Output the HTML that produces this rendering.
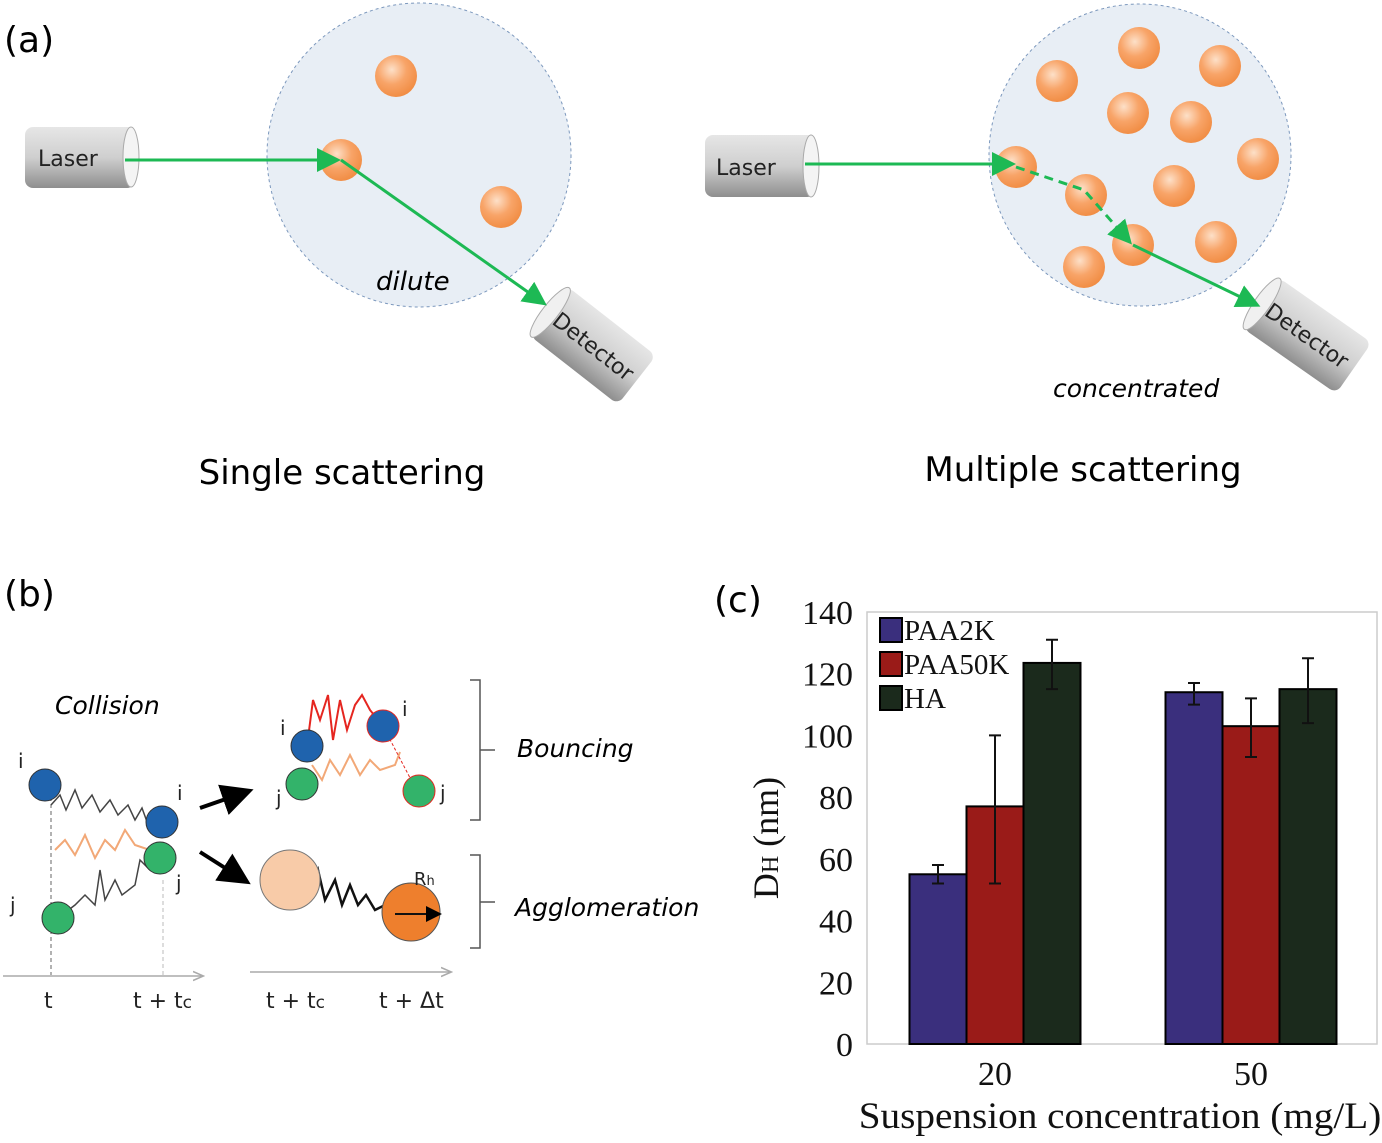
<!DOCTYPE html>
<html><head><meta charset="utf-8"><style>
body{margin:0;background:#fff;width:1382px;height:1143px;overflow:hidden}
svg{position:absolute;left:0;top:0}
.s{font-family:"DejaVu Sans","Liberation Sans",sans-serif}
.r{font-family:"Liberation Serif",serif}
</style></head><body>
<svg width="1382" height="1143" viewBox="0 0 1382 1143">
<defs>
<radialGradient id="og" cx="0.4" cy="0.35" r="0.7"><stop offset="0" stop-color="#fde0c8"/><stop offset="0.5" stop-color="#f8a468"/><stop offset="1" stop-color="#f08a40"/></radialGradient>
<linearGradient id="cyl" x1="0" y1="0" x2="0" y2="1"><stop offset="0" stop-color="#e6e6e6"/><stop offset="0.5" stop-color="#cfcfcf"/><stop offset="1" stop-color="#8e8e8e"/></linearGradient>
<marker id="ga" markerWidth="8" markerHeight="8" refX="6" refY="4" orient="auto"><path d="M0,0 L8,4 L0,8 z" fill="#1db954"/></marker>
<marker id="ka" markerWidth="8" markerHeight="8" refX="6" refY="4" orient="auto"><path d="M0,0 L8,4 L0,8 z" fill="#000"/></marker>
<marker id="ya" markerWidth="8" markerHeight="8" refX="6" refY="4" orient="auto"><path d="M0,1 L7,4 L0,7" fill="none" stroke="#aaa"/></marker>
</defs>
<!-- panel a -->
<text class="s" x="4" y="52" font-size="36">(a)</text>
<circle cx="419" cy="155" r="152" fill="#e8eef5" stroke="#7c98bd" stroke-dasharray="3,3"/>
<circle cx="1140" cy="155" r="151" fill="#e8eef5" stroke="#7c98bd" stroke-dasharray="3,3"/>
<g fill="url(#og)">
<circle cx="396" cy="76" r="21"/><circle cx="341" cy="160" r="21"/><circle cx="501" cy="207" r="21"/>
<circle cx="1139" cy="48" r="21"/><circle cx="1057" cy="81" r="21"/><circle cx="1220" cy="66" r="21"/><circle cx="1128" cy="113" r="21"/><circle cx="1191" cy="122" r="21"/><circle cx="1258" cy="159" r="21"/><circle cx="1016" cy="167" r="21"/><circle cx="1174" cy="186" r="21"/><circle cx="1086" cy="195" r="21"/><circle cx="1133" cy="245" r="21"/><circle cx="1216" cy="242" r="21"/><circle cx="1084" cy="267" r="21"/>
</g>
<g><rect x="25" y="127" width="110" height="61" rx="8" fill="url(#cyl)"/><ellipse cx="131" cy="157" rx="8" ry="30" fill="#f4f4f4" stroke="#aaa"/><text class="s" x="38" y="166" font-size="22" fill="#222">Laser</text></g>
<g><rect x="705" y="135" width="110" height="62" rx="8" fill="url(#cyl)"/><ellipse cx="811" cy="166" rx="8" ry="31" fill="#f4f4f4" stroke="#aaa"/><text class="s" x="716" y="175" font-size="22" fill="#222">Laser</text></g>
<g transform="translate(592,345) rotate(38)"><rect x="-55" y="-31" width="112" height="62" rx="8" fill="url(#cyl)"/><ellipse cx="-53" cy="0" rx="8" ry="31" fill="#f0f0f0" stroke="#aaa"/><text class="s" x="-46" y="8" font-size="22" fill="#222">Detector</text></g>
<g transform="translate(1308,336) rotate(35)"><rect x="-58" y="-31" width="114" height="62" rx="8" fill="url(#cyl)"/><ellipse cx="-56" cy="0" rx="8" ry="31" fill="#f0f0f0" stroke="#aaa"/><text class="s" x="-49" y="8" font-size="22" fill="#222">Detector</text></g>
<g stroke="#1db954" stroke-width="3" fill="none">
<line x1="125" y1="160" x2="335" y2="160" marker-end="url(#ga)"/><line x1="341" y1="160" x2="542" y2="302" marker-end="url(#ga)"/>
<line x1="805" y1="164" x2="1010" y2="164" marker-end="url(#ga)"/>
<polyline points="1016,167 1084,190 1128,240" stroke-dasharray="9,6" marker-end="url(#ga)"/>
<line x1="1133" y1="245" x2="1255" y2="304" marker-end="url(#ga)"/>
</g>
<text class="s" x="376" y="290" font-size="26" font-style="italic">dilute</text>
<text class="s" x="1053" y="397" font-size="25" font-style="italic">concentrated</text>
<text class="s" x="342" y="484" font-size="34" text-anchor="middle">Single scattering</text>
<text class="s" x="1083" y="481" font-size="34" text-anchor="middle">Multiple scattering</text>
<!-- panel b -->
<text class="s" x="4" y="606" font-size="36">(b)</text>
<text class="s" x="55" y="714" font-size="25" font-style="italic">Collision</text>
<g fill="none">
<line x1="51" y1="790" x2="51" y2="975" stroke="#666" stroke-dasharray="4,3"/><line x1="163" y1="880" x2="163" y2="975" stroke="#bbb" stroke-dasharray="4,3"/>
<polyline points="51,805 60,795 66,810 75,790 82,808 92,795 100,812 110,800 118,815 128,805 135,820 142,808 150,830 160,835" stroke="#444" stroke-width="1.5"/>
<polyline points="55,850 65,840 75,855 85,835 95,858 105,840 115,850 125,830 135,845 150,850 160,860" stroke="#f2a877" stroke-width="2"/>
<polyline points="58,918 75,905 85,895 95,905 100,870 105,900 115,880 122,895 135,885 140,860 150,870 158,855" stroke="#444" stroke-width="1.5"/>
<polyline points="307,746 313,700 320,720 328,695 333,740 340,700 347,730 355,705 362,695 370,710 378,720" stroke="#e52620" stroke-width="2"/>
<polyline points="312,765 322,780 330,760 340,775 350,755 360,775 370,760 380,770 395,765 400,752" stroke="#f2a877" stroke-width="2"/>
<line x1="385" y1="730" x2="419" y2="795" stroke="#e52620" stroke-dasharray="3,2"/>
<polyline points="290,890 300,880 308,895 318,870 325,900 335,880 342,905 350,885 358,905 366,895 375,910 385,905 395,915" stroke="#111" stroke-width="2.5"/>
</g>
<g stroke="#333">
<circle cx="45" cy="785" r="16" fill="#1f63ad"/><circle cx="58" cy="918" r="16" fill="#33b36a"/>
<circle cx="162" cy="822" r="16" fill="#1f63ad"/><circle cx="160" cy="858" r="16" fill="#33b36a"/>
<circle cx="307" cy="746" r="16" fill="#1f63ad"/><circle cx="302" cy="784" r="16" fill="#33b36a"/>
<circle cx="383" cy="726" r="16" fill="#1f63ad" stroke="#e52620"/><circle cx="419" cy="791" r="16" fill="#33b36a" stroke="#e52620"/>
<circle cx="290" cy="880" r="30" fill="#f8cba8" stroke="#777"/><circle cx="411" cy="912" r="29" fill="#ee7f2d" stroke="#555"/>
</g>
<line x1="395" y1="914" x2="438" y2="914" stroke="#111" stroke-width="2" marker-end="url(#ka)"/>
<g font-family="DejaVu Sans,sans-serif" font-size="20" fill="#222">
<text x="18" y="768">i</text><text x="10" y="912">j</text><text x="177" y="800">i</text><text x="176" y="890">j</text>
<text x="280" y="735">i</text><text x="276" y="805">j</text><text x="402" y="716">i</text><text x="440" y="800">j</text><text x="414" y="885" font-size="18">R<tspan font-size="13">h</tspan></text>
</g>
<g stroke="#000" stroke-width="4"><line x1="200" y1="808" x2="246" y2="792" marker-end="url(#ka)"/><line x1="200" y1="852" x2="244" y2="880" marker-end="url(#ka)"/></g>
<g fill="none" stroke="#555" stroke-width="1.5"><path d="M470,680 h10 v70 h15 M480,750 v70 h-10"/><path d="M470,855 h10 v47 h15 M480,902 v46 h-10"/></g>
<text class="s" x="517" y="757" font-size="25" font-style="italic">Bouncing</text>
<text class="s" x="515" y="916" font-size="25" font-style="italic">Agglomeration</text>
<g stroke="#aaa" stroke-width="1.5"><line x1="3" y1="976" x2="202" y2="976" marker-end="url(#ya)"/><line x1="250" y1="972" x2="450" y2="972" marker-end="url(#ya)"/></g>
<g class="s" font-size="22" fill="#222">
<text x="44" y="1008">t</text><text x="133" y="1008">t + t<tspan font-size="17">c</tspan></text><text x="266" y="1008">t + t<tspan font-size="17">c</tspan></text><text x="379" y="1008">t + Δt</text></g>
<!-- panel c -->
<text class="s" x="714" y="612" font-size="36">(c)</text>
<g id="chart"></g>
</svg>
<script>
const categories=["20","50"];
const series=["PAA2K","PAA50K","HA"];
const colors=["#3a2f7d","#9a1b18","#1b2a1c"];
const paa2k=[55,114];
const paa50k=[77,103];
const ha=[123.5,115];
const errLow=[[52,110],[52,93],[115,104]];
const errHigh=[[58,117],[100,112],[131,125]];
const yTicks=[0,20,40,60,80,100,120,140];
const values=[paa2k,paa50k,ha];
const NS="http://www.w3.org/2000/svg";
const g=document.getElementById('chart');
const L=867,R=1377,B=1044,T=612,ymax=140;
const y=v=>B-(v/ymax)*(B-T);
const groupCenter=[995,1251],bw=57;
const x=(ci,si)=>groupCenter[ci]+(si-1.5)*bw;
function mk(t,a,p){const e=document.createElementNS(NS,t);for(const k in a)e.setAttribute(k,a[k]);(p||g).appendChild(e);return e;}
const frame=mk('rect',{x:L,y:T,width:R-L,height:B-T,fill:'none',stroke:'#ccc','stroke-width':1.5});


yTicks.forEach(t=>{const e=mk('text',{x:853,y:y(t)+12,'font-size':34,'text-anchor':'end','font-family':'Liberation Serif,serif',fill:'#111'});e.textContent=t;

});
categories.forEach((c,ci)=>{const e=mk('text',{x:groupCenter[ci],y:1085,'font-size':34,'text-anchor':'middle','font-family':'Liberation Serif,serif',fill:'#111'});e.textContent=c;

});
values.forEach((arr,si)=>arr.forEach((v,ci)=>{
const r=mk('rect',{x:x(ci,si),y:y(v),width:bw,height:B-y(v),fill:colors[si],stroke:'#000','stroke-width':2});


const cx=x(ci,si)+bw/2;
const eb=mk('path',{d:`M${cx},${y(errLow[si][ci])}V${y(errHigh[si][ci])}M${cx-6},${y(errLow[si][ci])}h12M${cx-6},${y(errHigh[si][ci])}h12`,stroke:'#111','stroke-width':2,fill:'none'});


}));
series.forEach((s,si)=>{const yy=618+si*34;
const sw=mk('rect',{x:880,y:yy,width:22,height:24,fill:colors[si],stroke:'#000','stroke-width':2});


const t=mk('text',{x:904,y:yy+22,'font-size':29,'font-family':'Liberation Serif,serif',fill:'#111'});t.textContent=s;

});
const yt=mk('text',{transform:'translate(778,838) rotate(-90)','font-size':36,'text-anchor':'middle','font-family':'Liberation Serif,serif',fill:'#111'});
yt.innerHTML='D<tspan font-size="24">H</tspan> (nm)';


const xt=mk('text',{transform:'translate(1120,1128) scale(1.06,1)','font-size':37,'text-anchor':'middle','font-family':'Liberation Serif,serif',fill:'#111'});xt.textContent='Suspension concentration (mg/L)';


</script>
</body></html>
